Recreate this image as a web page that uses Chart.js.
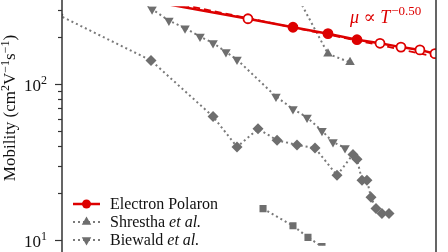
<!DOCTYPE html>
<html>
<head>
<meta charset="utf-8">
<script src="https://cdn.jsdelivr.net/npm/chart.js@4"></script>
<style>
  html, body { margin: 0; padding: 0; background: #fff; }
</style>
</head>
<body>
<canvas id="chart" width="448" height="252"></canvas>
<script>
// Data (temperature in K, mobility in cm^2/Vs)
const polaronT      = [77.1, 140.6, 180.6, 219.4, 257.8, 293.0, 329.2, 365.8, 397.7];
const polaronMu     = [351, 263, 232, 211, 193, 183, 173, 166, 157];
const polaronFilled = [false, false, true, true, true, false, false, false, false];

const fitT  = [81.6, 400];
const fitMu = [357, 150];

const shresthaT  = [182.7, 219.4, 248.0];
const shresthaMu = [390, 156.7, 138.1];

const biewaldT  = [77.1, 82.5, 90.6, 99.1, 107.7, 115.8, 124.4, 132.3, 164.3, 180.6, 195.3, 212.2, 225.6, 241.2];
const biewaldMu = [354, 303, 256, 229, 202, 184, 161, 144, 83.3, 69.4, 61.2, 50.2, 42.5, 39.0];

const diamondT  = [48.9, 82.0, 115.8, 132.3, 148.7, 165.3, 184.7, 204.1, 230.7, 252.1, 257.8, 265.1, 272.5, 278.7, 286.5, 296.2, 308.0];
const diamondMu = [279, 142, 62.0, 39.6, 51.7, 43.7, 40.7, 39.0, 26.0, 35.4, 33.0, 24.2, 24.2, 18.8, 15.9, 14.8, 14.8];

const squareT  = [152.9, 180.6, 196.3, 212.2, 234.6];
const squareMu = [15.9, 12.35, 10.4, 9.07, 7.66];

const yTicks      = [10, 20, 30, 40, 50, 60, 70, 80, 90, 100, 200, 300];
const yTickLabels = {10: ['10', '1'], 100: ['10', '2']};

const RED = '#dd0000';
const GRAY = '#6e6e6e';
const AXIS = '#333333';
const SERIF = '"Liberation Serif", "DejaVu Serif", serif';

const pts = (xs, ys) => xs.map((x, i) => ({x: x, y: ys[i]}));

function grayLine(label, xs, ys, style, rot, r) {
  return {
    label: label,
    data: pts(xs, ys),
    borderColor: '#7a7a7a',
    borderWidth: 2,
    borderDash: [2, 3],
    pointStyle: style,
    pointRotation: rot,
    pointRadius: r,
    pointBackgroundColor: GRAY,
    pointBorderColor: GRAY,
    pointBorderWidth: 0,
    clip: 0
  };
}

// axes, ticks, labels, legend and fit note
const decor = {
  id: 'decor',
  afterDraw(chart) {
    const ctx = chart.ctx;
    const a = chart.chartArea;
    const ys = chart.scales.y;
    ctx.save();

    // frame lines
    ctx.strokeStyle = AXIS;
    ctx.lineWidth = 1.5;
    ctx.beginPath();
    ctx.moveTo(a.left, 0); ctx.lineTo(a.left, chart.height);
    ctx.moveTo(a.right, 0); ctx.lineTo(a.right, chart.height);
    ctx.stroke();

    // ticks
    ctx.lineWidth = 1.2;
    yTicks.forEach(v => {
      const py = Math.round(ys.getPixelForValue(v)) + 0.5;
      const len = yTickLabels[v] ? 7 : 4;
      ctx.beginPath();
      ctx.moveTo(a.left - len, py); ctx.lineTo(a.left, py);
      ctx.stroke();
      if (yTickLabels[v]) {
        ctx.fillStyle = '#111';
        ctx.font = '17px ' + SERIF;
        ctx.textBaseline = 'alphabetic';
        ctx.textAlign = 'left';
        ctx.fillText(yTickLabels[v][0], 24, py + 6);
        ctx.font = '12px ' + SERIF;
        ctx.fillText(yTickLabels[v][1], 41, py - 1);
      }
    });

    // y title
    const parts = [['Mobility (cm', 0], ['2', 1], ['V', 0], ['\u22121', 1], ['s', 0], ['\u22121', 1], [')', 0]];
    let w = 0;
    parts.forEach(p => {
      ctx.font = (p[1] ? '12px ' : '17px ') + SERIF;
      w += ctx.measureText(p[0]).width;
    });
    ctx.save();
    ctx.translate(15, 108);
    ctx.rotate(-Math.PI / 2);
    ctx.fillStyle = '#111';
    let x = -w / 2;
    parts.forEach(p => {
      ctx.font = (p[1] ? '12px ' : '17px ') + SERIF;
      ctx.fillText(p[0], x, p[1] ? -6 : 0);
      x += ctx.measureText(p[0]).width;
    });
    ctx.restore();

    // fit annotation
    ctx.fillStyle = RED;
    ctx.font = 'italic 18px ' + SERIF;
    ctx.fillText('\u03bc \u221d T', 350, 23);
    const tw = ctx.measureText('\u03bc \u221d T').width;
    ctx.font = '13px ' + SERIF;
    ctx.fillText('\u22120.50', 350 + tw + 1, 15);

    // legend
    const rows = [
      {y: 204, name: 'Electron Polaron', ital: '', color: RED, dash: [], lw: 2.5, style: 'circle', rot: 0, r: 4.5},
      {y: 222, name: 'Shrestha ', ital: 'et al.', color: '#7a7a7a', dash: [2, 3], lw: 2, style: 'triangle', rot: 0, r: 5.5},
      {y: 240, name: 'Biewald ', ital: 'et al.', color: '#7a7a7a', dash: [2, 3], lw: 2, style: 'triangle', rot: 180, r: 5.5}
    ];
    rows.forEach(row => {
      ctx.strokeStyle = row.color;
      ctx.lineWidth = row.lw;
      ctx.setLineDash(row.dash);
      ctx.beginPath();
      ctx.moveTo(73, row.y); ctx.lineTo(100, row.y);
      ctx.stroke();
      ctx.setLineDash([]);
      ctx.fillStyle = row.style === 'circle' ? RED : GRAY;
      Chart.helpers.drawPoint(ctx, {pointStyle: row.style, rotation: row.rot, radius: row.r, borderWidth: 0}, 86.5, row.y);
      ctx.fillStyle = '#111';
      ctx.font = '16px ' + SERIF;
      ctx.fillText(row.name, 110, row.y + 5);
      if (row.ital) {
        const nw = ctx.measureText(row.name).width;
        ctx.font = 'italic 16px ' + SERIF;
        ctx.fillText(row.ital, 110 + nw, row.y + 5);
      }
    });
    ctx.restore();
  }
};

new Chart(document.getElementById('chart'), {
  type: 'line',
  data: {
    datasets: [
      {
        label: 'Electron Polaron',
        data: pts(polaronT, polaronMu),
        borderColor: RED,
        borderWidth: 2.5,
        pointStyle: 'circle',
        pointRadius: 4.5,
        pointBorderWidth: 1.8,
        pointBorderColor: RED,
        pointBackgroundColor: polaronFilled.map(f => f ? RED : '#ffffff'),
        clip: 0
      },
      {
        label: '\u03bc \u221d T^-0.50',
        data: pts(fitT, fitMu),
        borderColor: RED,
        borderWidth: 1.8,
        borderDash: [7, 4],
        pointRadius: 0,
        clip: 0
      },
      grayLine('Shrestha et al.', shresthaT, shresthaMu, 'triangle', 0, 5.5),
      grayLine('Biewald et al.', biewaldT, biewaldMu, 'triangle', 180, 5.5),
      grayLine('Set 4', diamondT, diamondMu, 'rectRot', 0, 5.5),
      grayLine('Set 5', squareT, squareMu, 'rect', 0, 5)
    ]
  },
  options: {
    responsive: false,
    devicePixelRatio: 1,
    animation: false,
    events: [],
    layout: { padding: { left: 0, right: 12, top: 0, bottom: 0 } },
    plugins: { legend: { display: false }, tooltip: { enabled: false } },
    scales: {
      x: { type: 'logarithmic', min: 50, max: 400, display: false },
      y: {
        type: 'logarithmic',
        min: 9.192,
        max: 316.2,
        bounds: 'data',
        afterBuildTicks: s => { s.ticks = yTicks.map(v => ({value: v})); },
        afterFit: s => { s.width = 62; },
        grid: { display: false, drawTicks: false },
        border: { display: false },
        ticks: { display: false }
      }
    }
  },
  plugins: [decor]
});
</script>
</body>
</html>
